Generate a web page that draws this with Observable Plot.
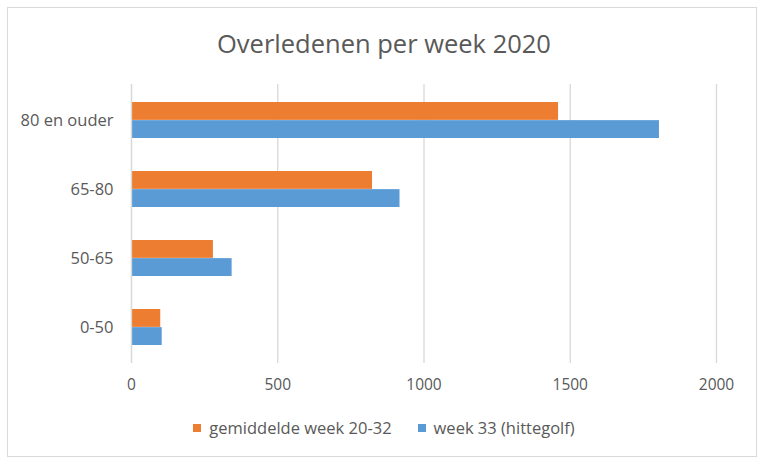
<!DOCTYPE html>
<html>
<head>
<meta charset="utf-8">
<script src="https://cdn.jsdelivr.net/npm/d3@7"></script>
<script src="https://cdn.jsdelivr.net/npm/@observablehq/plot@0.6"></script>
<style>
  html, body { margin: 0; padding: 0; background: #fff; }
  body { width: 768px; height: 468px; position: relative; overflow: hidden; font-family: "Open Sans", sans-serif; }
  #frame { position: absolute; left: 7px; top: 7px; width: 750px; height: 450px; border: 1px solid #d9d9d9; box-sizing: border-box; }
  #title { position: absolute; left: 0; width: 768px; top: 26px; text-align: center; font-size: 25.5px; color: #595959; line-height: 34px; }
  #chart { position: absolute; left: 0; top: 70px; }
  #legend { position: absolute; left: 0; width: 768px; top: 417px; display: flex; justify-content: center; gap: 26px; font-size: 16.5px; color: #595959; line-height: 22px; }
  .item { display: flex; align-items: center; gap: 8px; }
  .sw { width: 8px; height: 8px; display: inline-block; }
</style>
</head>
<body>
<div id="frame"></div>
<div id="title">Overledenen per week 2020</div>
<div id="chart"></div>
<div id="legend"></div>
<script>
const categories = ["80 en ouder", "65-80", "50-65", "0-50"];
const series = ["gemiddelde week 20-32", "week 33 (hittegolf)"];
const gemiddelde = [1460, 824, 280, 100];
const week33 = [1805, 918, 344, 105];
const xTicks = [0, 500, 1000, 1500, 2000];
const colors = ["#ED7D31", "#5B9BD5"];

const rows = [];
categories.forEach((c, i) => {
  rows.push({category: c, series: series[0], value: gemiddelde[i]});
  rows.push({category: c, series: series[1], value: week33[i]});
});

const width = 768, height = 330;
const marginTop = 14, marginBottom = 37, marginLeft = 131, marginRight = 52;
const pInner = 0.48, pOuter = 0.24;
const step = (height - marginTop - marginBottom) / (categories.length - pInner + 2 * pOuter);
const bw = step * (1 - pInner);
const half = bw / 2;

const chart = Plot.plot({
  width, height, marginTop, marginBottom, marginLeft, marginRight,
  style: {fontFamily: "Open Sans, sans-serif", fontSize: "16px", color: "#595959", background: "transparent"},
  x: {domain: [0, 2000], ticks: xTicks, label: null},
  y: {domain: categories, paddingInner: pInner, paddingOuter: pOuter, label: null},
  color: {domain: series, range: colors},
  marks: [
    Plot.gridX(xTicks, {stroke: "#d9d9d9", strokeOpacity: 1, strokeWidth: 1.3}),
    Plot.barX(rows.filter(d => d.series === series[0]), {x: "value", y: "category", fill: "series", insetBottom: half, insetTop: 0}),
    Plot.barX(rows.filter(d => d.series === series[1]), {x: "value", y: "category", fill: "series", insetTop: half, insetBottom: 0}),
    Plot.ruleX([0], {stroke: "#d9d9d9", strokeWidth: 1.3}),
    Plot.axisX(xTicks, {tickSize: 0, tickPadding: 15, fontSize: 15.5, fill: "#595959", label: null, tickFormat: d => String(d)}),
    Plot.axisY({tickSize: 0, tickPadding: 18, fontSize: 16.5, fill: "#595959", label: null})
  ]
});
document.getElementById("chart").appendChild(chart);

const legend = document.getElementById("legend");
series.forEach((s, i) => {
  const item = document.createElement("div");
  item.className = "item";
  const sw = document.createElement("span");
  sw.className = "sw";
  sw.style.background = colors[i];
  const t = document.createElement("span");
  t.textContent = s;
  item.appendChild(sw);
  item.appendChild(t);
  legend.appendChild(item);
});
</script>
</body>
</html>
